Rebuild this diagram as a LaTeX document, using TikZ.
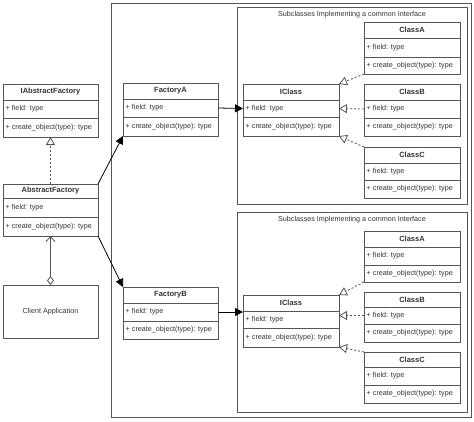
\documentclass[tikz,border=0pt]{standalone}
\usepackage{fontspec}
\setmainfont{Liberation Sans}
\usetikzlibrary{arrows.meta}
\definecolor{lc}{HTML}{555555}
\definecolor{tc}{HTML}{333333}
\tikzset{
  umlbox/.style={draw=lc, line width=0.8pt, fill=white, inner sep=0pt, outer sep=0pt, anchor=north west},
  umlsep/.style={draw=lc, line width=0.8pt},
  hdrtext/.style={font=\fontsize{7.5}{8.5}\selectfont\bfseries, text=tc, inner sep=0pt},
  rowtext/.style={font=\fontsize{7.2}{8.5}\selectfont, text=tc, inner sep=0pt, anchor=west},
  frame/.style={draw=lc, line width=0.8pt},
  assoc/.style={draw=black, line width=0.8pt, -{Triangle[length=8pt,width=8pt]}},
  realize/.style={draw=lc, line width=0.8pt, dash pattern=on 2pt off 2pt, -{Triangle[open,length=8pt,width=9pt,fill=white]}},
  aggr/.style={draw=lc, line width=0.8pt, {Diamond[open,length=9pt,width=7pt,fill=white]}-{Straight Barb[length=5pt,width=9pt]}}
}
% #1 name, #2 x, #3 top, #4 width, #5 header bottom, #6 separator, #7 bottom, #8 title
\newcommand{\umlclass}[8]{%
  \node[umlbox, minimum width=#4pt, minimum height={(#7-#3)*1pt}] (#1) at (#2,#3) {};
  \draw[umlsep] (#2,#5) -- ++(#4,0);
  \draw[umlsep] (#2,#6) -- ++(#4,0);
  \node[hdrtext] (#1-h) at ({#2+#4/2},{(#3+#5)/2}) {#8};
  \node[rowtext] (#1-f) at ({#2+2.5},{(#5+#6)/2}) {+ field: type};
  \node[rowtext] (#1-m) at ({#2+2.5},{(#6+#7)/2}) {+ create\_object(type): type};
  \coordinate (#1-fl) at (#2,{(#5+#6)/2});
  \coordinate (#1-fr) at ({#2+#4},{(#5+#6)/2});
}
\begin{document}
\begin{tikzpicture}[x=1pt,y=-1pt]
\useasboundingbox[fill=white] (0,0) rectangle (474,421);
% frames
\draw[frame] (111,3) rectangle (471,417);
\draw[frame] (237,7) rectangle (467,204);
\draw[frame] (237,212) rectangle (467,412);
\node[rowtext, anchor=center] (t1) at (352,15) {Subclasses Implementing a common Interface};
\node[rowtext, anchor=center] (t2) at (352,220) {Subclasses Implementing a common Interface};
% classes
\umlclass{IAF}{3}{84}{95}{100}{118}{137}{IAbstractFactory}
\umlclass{AF}{3}{184}{95}{198}{217}{236}{AbstractFactory}
\umlclass{FA}{123}{83}{95}{99}{117}{136}{FactoryA}
\umlclass{FB}{123}{287}{95}{303}{321}{339}{FactoryB}
\umlclass{ICU}{243}{84}{96}{100}{117}{136}{IClass}
\umlclass{CAU}{364}{22}{96}{38}{57}{74}{ClassA}
\umlclass{CBU}{364}{84}{96}{100}{118}{136}{ClassB}
\umlclass{CCU}{364}{147}{96}{163}{180}{198}{ClassC}
\umlclass{ICL}{243}{295}{96}{311}{328}{347}{IClass}
\umlclass{CAL}{364}{231}{96}{247}{265}{282}{ClassA}
\umlclass{CBL}{364}{292}{96}{307}{324}{342}{ClassB}
\umlclass{CCL}{364}{352}{96}{367}{385}{403}{ClassC}
\node[umlbox, minimum width=95pt, minimum height=53pt] (CL) at (3,285) {};
\node[rowtext, anchor=center] (CLt) at (CL.center) {Client Application};
% connectors
\draw[realize] (AF.north) -- (IAF.south);
\draw[aggr] (CL.north) -- (AF.south);
\draw[assoc] (AF.north east) -- (FA.south west);
\draw[assoc] (AF.south east) -- (FB.north west);
\draw[assoc] (FA-fr) -- (ICU-fl);
\draw[assoc] (FB-fr) -- (FB-fr -| ICL.west);
\draw[realize] (CAU.south west) -- (ICU.north east);
\draw[realize] (CBU-fl) -- (ICU-fr);
\draw[realize] (CCU.north west) -- (ICU.south east);
\draw[realize] (CAL.south west) -- (ICL.north east);
\draw[realize] (CBL-fl) -- (CBL-fl -| ICL.east);
\draw[realize] (CCL.north west) -- (ICL.south east);
\end{tikzpicture}
\end{document}
